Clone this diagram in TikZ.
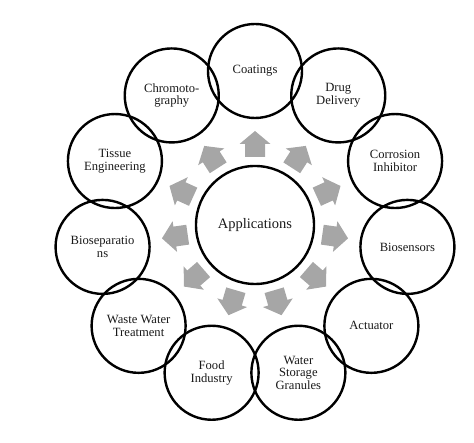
\documentclass[tikz,border=0pt]{standalone}
\usepackage{fontspec}
\setmainfont{Liberation Serif}
\usetikzlibrary{calc}
\definecolor{arrowgray}{RGB}{166,166,166}
\tikzset{
  appbox/.style={circle, draw=black, line width=2.4pt, minimum size=94pt, inner sep=0pt, align=center,
    font=\fontsize{12.6}{12.6}\selectfont, text=black!90},
  hubbox/.style={circle, draw=black, line width=2.4pt, minimum size=118pt, inner sep=0pt, align=center,
    font=\fontsize{14.5}{16}\selectfont, text=black!90},
  blockarrow/.style={fill=arrowgray, draw=none}
}
\begin{document}
\begin{tikzpicture}[x=1pt,y=1pt]
\useasboundingbox (0,0) rectangle (474,443);
\coordinate (ctr) at (255,218);
\node[hubbox] (hub) at (ctr) {Applications};
\foreach \lab [count=\k from 0] in {Coatings, Drug\\Delivery, Corrosion\\Inhibitor, Biosensors, Actuator,
    Water\\Storage\\Granules, Food\\Industry, Waste Water\\Treatment, Bioseparatio\\ns,
    Tissue\\Engineering, Chromoto-\\graphy}{
  \pgfmathsetmacro{\ang}{90-\k*360/11}
  \node[appbox] (app\k) at ($(ctr)+(\ang:154)$) {\lab};
  \fill[blockarrow, shift={(ctr)}, rotate=\ang]
    (68,-10) -- (81,-10) -- (81,-15.5) -- (94,0) -- (81,15.5) -- (81,10) -- (68,10) -- cycle;
}
\end{tikzpicture}
\end{document}
